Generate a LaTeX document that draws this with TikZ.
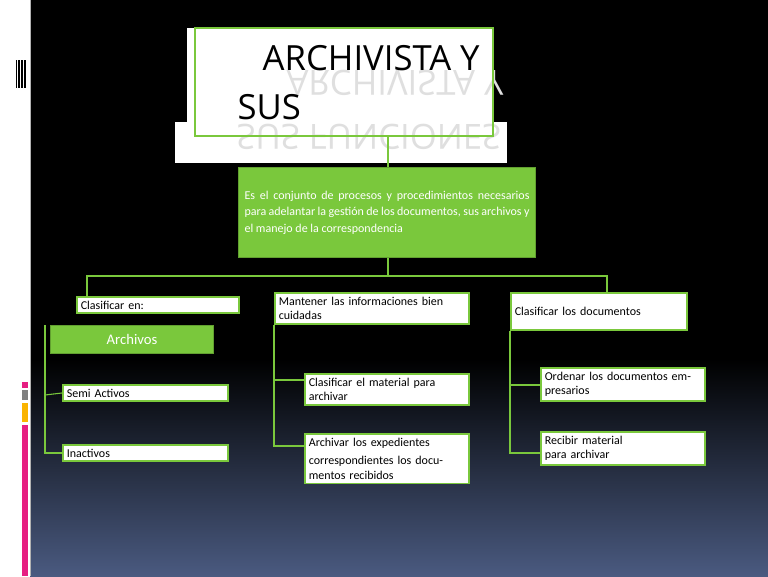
\documentclass[tikz,border=0pt]{standalone}
\usepackage{fontspec}
\setmainfont{Carlito}
\newfontfamily\titlefont{Open Sans}
\definecolor{leaf}{RGB}{122,200,60}
\definecolor{deepblue}{RGB}{74,90,128}
\definecolor{hotpink}{RGB}{230,30,130}
\definecolor{amber}{RGB}{250,180,0}
\tikzset{
  wbox/.style={draw=leaf,line width=1.2pt,fill=white,inner sep=3pt,text width=#1,align=left,font=\fontsize{9}{11}\selectfont},
  gbox/.style={draw=leaf!80!black,line width=0.8pt,fill=leaf,text=white},
  link/.style={draw=leaf,line width=0.8pt}
}
\begin{document}
\begin{tikzpicture}[x=0.75pt,y=0.75pt,yscale=-1,xscale=1]
\useasboundingbox (0,0) rectangle (768,576);
% background
\fill[white] (0,0) rectangle (30,576);
\fill[black] (30,0) rectangle (768,360);
\shade[top color=black,bottom color=deepblue] (30,359) rectangle (768,576);
\draw[gray!60,line width=0.6pt] (30,0) -- (30,576);
% side marks
\foreach \xx in {16,17.5,19,20.5,22,23.5,25}
  \fill[black] (\xx,60) rectangle ++(0.8,28);
\fill[hotpink] (22,382) rectangle (28,388);
\fill[gray] (22,390) rectangle (28,400);
\fill[amber] (22,403) rectangle (28,422);
\fill[hotpink] (22,425) rectangle (28,576);
% title
\fill[white] (187,28) rectangle (493,124);
\fill[white] (175,122) rectangle (507,163);
\node[font=\titlefont\fontsize{26}{28}\selectfont,gray!25,yscale=-1] (ttlr) at (395,83) {ARCHIVISTA Y};
\node[font=\titlefont\fontsize{26}{28}\selectfont,gray!25,yscale=-1,anchor=west] (susr) at (232,137) {SUS FUNCIONES};
\node[font=\titlefont\fontsize{26}{28}\selectfont,anchor=west] (ttl) at (258,58) {ARCHIVISTA Y};
\node[font=\titlefont\fontsize{26}{28}\selectfont,anchor=west] (sus) at (233,107) {SUS};
\draw[leaf,line width=0.8pt] (195,28) rectangle (493,136);
\coordinate (tbot) at (388,136);
% definition
\node[gbox,minimum width=297*0.75pt,minimum height=90*0.75pt,text width=285*0.75pt,align=justify,
  font=\fontsize{9}{12.5}\selectfont,anchor=north west] (def) at (238,167)
  {Es el conjunto de procesos y procedimientos necesarios para adelantar la gestión de los documentos, sus archivos y el manejo de la correspondencia};
\draw[link] (tbot) -- (def.north -| tbot);
% branches
\node[wbox=154*0.75pt,anchor=north west] (cla) at (76,296) {Clasificar en:};
\node[wbox=186*0.75pt,anchor=north west] (man) at (274,292) {Mantener las informaciones bien cuidadas};
\node[wbox=168*0.75pt,anchor=north west,minimum height=37*0.75pt] (doc) at (510,292) {Clasificar los documentos\par};
\coordinate (bus) at (388,276);
\draw[link] (def.south -| bus) -- (bus);
\draw[link] (cla.north -| 87,0) |- (bus) -| (doc.north -| 607,0);
% archivos
\node[gbox,anchor=north west,minimum width=163*0.75pt,minimum height=28*0.75pt,font=\fontsize{11}{13}\selectfont] (arc) at (50,325) {Archivos};
\node[wbox=157*0.75pt,anchor=north west] (semi) at (62,384) {Semi Activos};
\node[wbox=157*0.75pt,anchor=north west] (ina) at (62,444) {Inactivos};
\draw[link] (45,325) |- (ina.west);
\draw[link] (45,395) -- (semi.west);
% mantener
\node[wbox=156*0.75pt,anchor=north west] (mat) at (304,373) {Clasificar el material para archivar};
\node[wbox=156*0.75pt,anchor=north west] (exp) at (304,433) {Archivar los expedientes\\[3pt] correspondientes los documentos recibidos};
\draw[link] (man.south west) |- (exp.west |- 0,446);
\draw[link] (274,380) -- (mat.west |- 0,380);
% documentos
\node[wbox=156*0.75pt,anchor=north west] (ord) at (540,367) {Ordenar los documentos empresarios};
\node[wbox=156*0.75pt,anchor=north west] (rec) at (540,431) {Recibir material\\para archivar};
\draw[link] (doc.south west) |- (rec.west |- 0,453);
\draw[link] (510,385) -- (ord.west |- 0,385);
\end{tikzpicture}
\end{document}
